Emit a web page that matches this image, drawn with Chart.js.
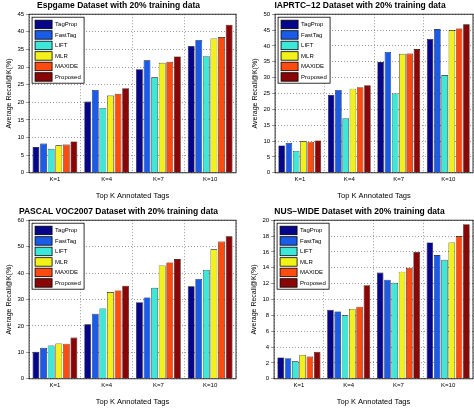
<!DOCTYPE html><html><head><meta charset="utf-8">
<script src="https://cdn.jsdelivr.net/npm/chart.js@4"></script>
<style>body{margin:0;background:#fff}.p{position:absolute;width:237px;height:206px}</style></head><body>
<div class="p" style="left:0;top:0"><canvas id="c0" width="237" height="206"></canvas></div>
<div class="p" style="left:237px;top:0"><canvas id="c1" width="237" height="206"></canvas></div>
<div class="p" style="left:0;top:206px"><canvas id="c2" width="237" height="206"></canvas></div>
<div class="p" style="left:237px;top:206px"><canvas id="c3" width="237" height="206"></canvas></div>
<script>
const categories=["K=1","K=4","K=7","K=10"];
const methods=["TagProp","FastTag","LIFT","MLR","MAXIDE","Proposed"];
const colors=["#06068a","#1a5ce8","#3ee8d8","#f2f21a","#ff4a10","#8a0606"];
const titles=["Espgame Dataset with 20% training data","IAPRTC−12 Dataset with 20% training data","PASCAL VOC2007 Dataset with 20% training data","NUS−WIDE Dataset with 20% training data"];
const espgame=[[7.3,20.2,29.4,36],[8.3,23.5,31.9,37.7],[6.8,18.4,27.1,33.1],[7.8,21.9,31.2,38.1],[8,22.4,31.5,38.5],[8.9,24,33,42]];
const iaprtc=[[8.6,24.6,34.9,42.2],[9.4,26.1,38.1,45.3],[6.9,17.2,25,30.8],[10,26.5,37.5,45],[9.8,27,37.6,45.5],[10.2,27.6,39,46.8]];
const pascal=[[10.2,20.6,29,35],[11.7,24.6,30.8,37.8],[12.6,26.6,34.4,41.2],[13.4,32.8,42.9,49],[13.3,33.4,44,51.9],[15.6,35.2,45.3,53.9]];
const nuswide=[[2.7,8.7,13.4,17.2],[2.6,8.5,12.5,15.6],[2.2,8,12.1,15],[3,8.8,13.5,17.2],[2.8,9.1,14,18],[3.4,11.8,16,19.5]];
const yMax=[45,50,60,20], yStep=[5,5,10,2];
const allData=[espgame,iaprtc,pascal,nuswide];
const pads=[1,10,1,9];
const legendPlugin={id:'ileg',afterDraw(ch){const c=ch.ctx,a=ch.chartArea;const x=a.left+3,y=a.top+3,w=52,rh=10.5;c.save();c.fillStyle='#fff';c.strokeStyle='#000';c.lineWidth=0.8;c.fillRect(x,y,w,rh*6+3);c.strokeRect(x,y,w,rh*6+3);c.font='6px Liberation Sans';c.textBaseline='middle';methods.forEach((m,i)=>{const yy=y+2+i*rh;c.fillStyle=colors[i];c.fillRect(x+3,yy+1,17,rh-2);c.strokeRect(x+3,yy+1,17,rh-2);c.fillStyle='#000';c.fillText(m,x+23,yy+rh/2);});c.restore();}};
const boxPlugin={id:'box',afterDraw(ch){const c=ch.ctx,a=ch.chartArea;c.save();c.strokeStyle='#000';c.lineWidth=0.8;c.strokeRect(a.left,a.top,a.right-a.left,a.bottom-a.top);c.restore();}};
allData.forEach((d,k)=>{
new Chart(document.getElementById('c'+k),{type:'bar',
data:{labels:categories,datasets:methods.map((m,i)=>({label:m,data:d[i],backgroundColor:colors[i],borderColor:'#000',borderWidth:0.6,categoryPercentage:0.88,barPercentage:0.9}))},
options:{responsive:false,animation:false,devicePixelRatio:1,
layout:{padding:{left:pads[k],right:1,top:0,bottom:2}},
plugins:{legend:{display:false},tooltip:{enabled:false},
title:{display:true,text:titles[k],color:'#000',font:{size:8.5,family:'Liberation Sans'},padding:{top:1,bottom:3}}},
scales:{x:{grid:{color:'#555',lineWidth:0.6,tickLength:0},border:{dash:[1,2],display:false},offset:true,
ticks:{color:'#000',font:{size:6,family:'Liberation Sans'},padding:3},
title:{display:true,text:'Top K Annotated Tags',color:'#000',font:{size:7.5,family:'Liberation Sans'},padding:{top:5}}},
y:{min:0,max:yMax[k],ticks:{stepSize:yStep[k],color:'#000',font:{size:6,family:'Liberation Sans'},padding:2},
grid:{color:'#555',lineWidth:0.6,tickLength:3},border:{dash:[1,2],display:false},
title:{display:true,text:'Average Recall@K(%)',color:'#000',font:{size:7,family:'Liberation Sans'},padding:{bottom:2}}}}},
plugins:[boxPlugin,legendPlugin]});
});
</script></body></html>
